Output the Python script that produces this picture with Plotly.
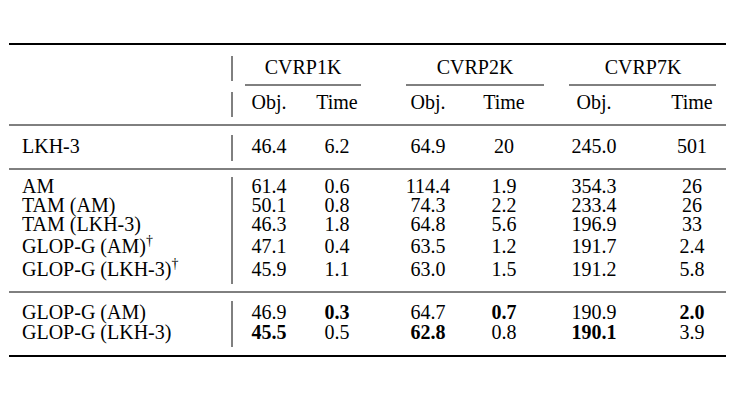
import plotly.graph_objects as go

methods = ["LKH-3", "AM", "TAM (AM)", "TAM (LKH-3)", "GLOP-G (AM)<sup>†</sup>",
           "GLOP-G (LKH-3)<sup>†</sup>", "GLOP-G (AM)", "GLOP-G (LKH-3)"]
obj_1k = ["46.4", "61.4", "50.1", "46.3", "47.1", "45.9", "46.9", "<b>45.5</b>"]
time_1k = ["6.2", "0.6", "0.8", "1.8", "0.4", "1.1", "<b>0.3</b>", "0.5"]
obj_2k = ["64.9", "114.4", "74.3", "64.8", "63.5", "63.0", "64.7", "<b>62.8</b>"]
time_2k = ["20", "1.9", "2.2", "5.6", "1.2", "1.5", "<b>0.7</b>", "0.8"]
obj_7k = ["245.0", "354.3", "233.4", "196.9", "191.7", "191.2", "190.9", "<b>190.1</b>"]
time_7k = ["501", "26", "26", "33", "2.4", "5.8", "<b>2.0</b>", "3.9"]
groups = ["CVRP1K", "CVRP2K", "CVRP7K"]
subheads = ["Obj.", "Time"] * 3

row_y = [147, 187, 206, 225, 247, 270, 313, 333]
col_x = [270, 338, 429, 505, 595, 693]
group_x = [304, 476, 644]
FONT = dict(family="Liberation Serif", size=20, color="black")

fig = go.Figure()
fig.add_trace(go.Scatter(x=[23] * len(methods), y=row_y, mode="text", text=methods,
                         textposition="middle right", textfont=FONT))
for x, col in zip(col_x, [obj_1k, time_1k, obj_2k, time_2k, obj_7k, time_7k]):
    fig.add_trace(go.Scatter(x=[x] * len(col), y=row_y, mode="text", text=col, textfont=FONT))
fig.add_trace(go.Scatter(x=group_x, y=[68] * 3, mode="text", text=groups, textfont=FONT))
fig.add_trace(go.Scatter(x=col_x, y=[103] * 6, mode="text", text=subheads, textfont=FONT))

shapes = []
def hline(y, x0=10, x1=727, w=1):
    shapes.append(dict(type="line", x0=x0, x1=x1, y0=y, y1=y, line=dict(color="black", width=w)))
hline(43, w=2)
hline(124)
hline(168)
hline(291)
hline(355, w=2)
for a, b in [(246, 362), (407, 545), (570, 717)]:
    hline(84, a, b)
for y0, y1 in [(55, 80), (91, 116), (134, 160), (176, 283), (300, 346)]:
    shapes.append(dict(type="line", x0=233, x1=233, y0=y0, y1=y1, line=dict(color="black", width=1)))

fig.update_layout(
    width=738, height=403, margin=dict(l=0, r=0, t=0, b=0),
    plot_bgcolor="white", paper_bgcolor="white", showlegend=False, shapes=shapes,
    xaxis=dict(range=[9, 747], visible=False),
    yaxis=dict(range=[410, 7], visible=False),
)
fig.write_html("out.html")
